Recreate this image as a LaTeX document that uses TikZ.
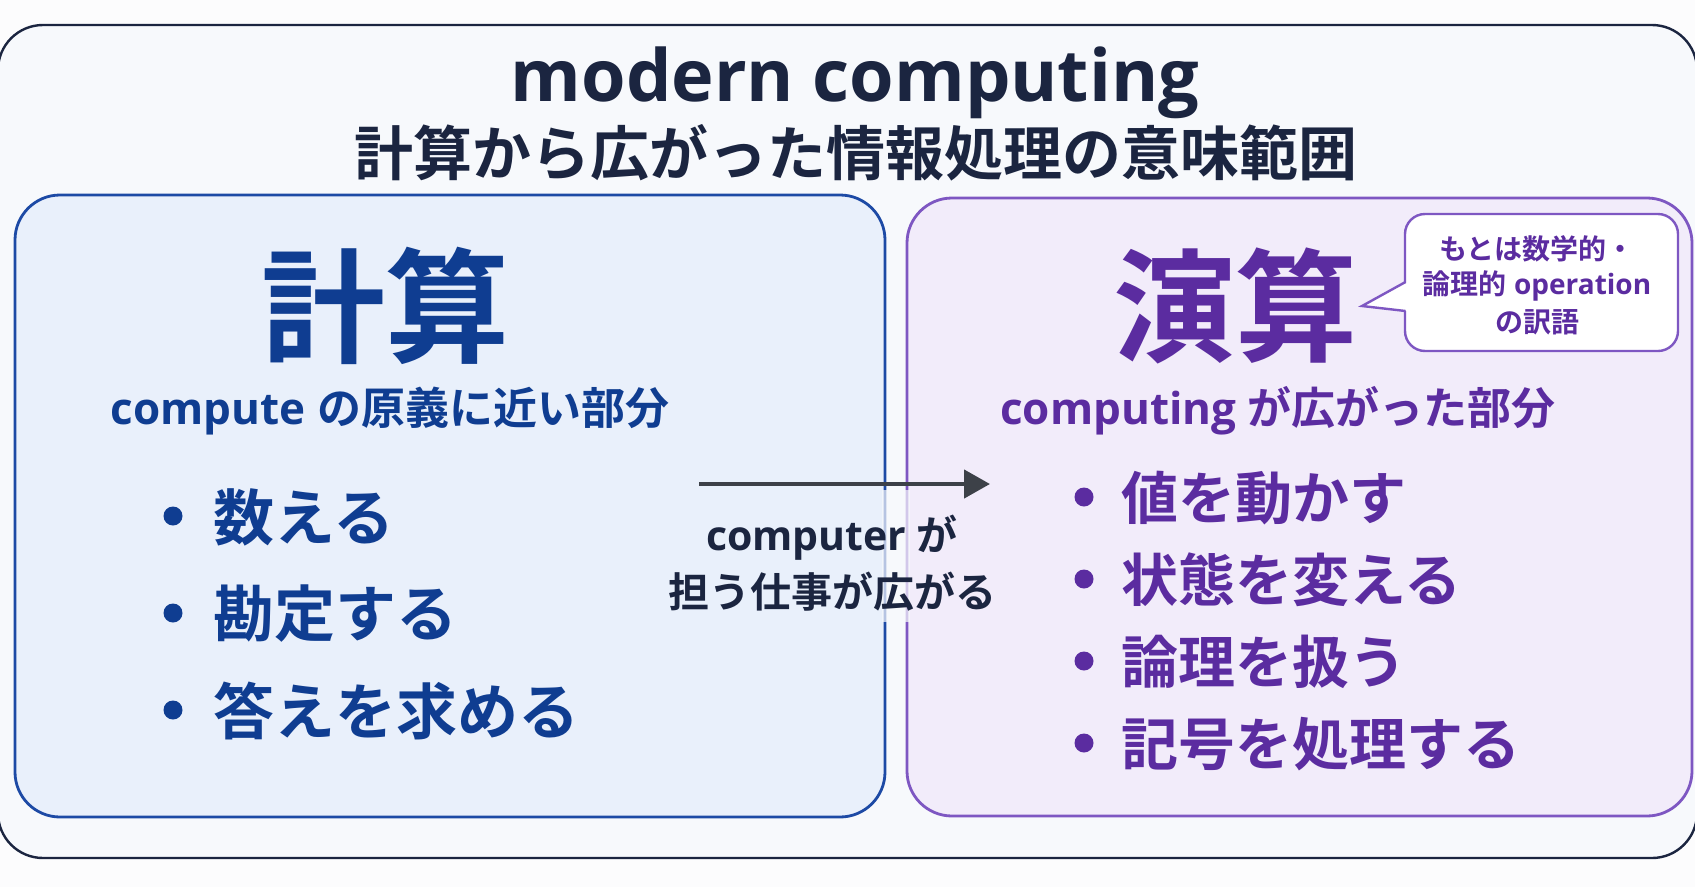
\documentclass[tikz,border=0pt]{standalone}
\usepackage{fontspec}
\setmainfont{Open Sans}
\newfontfamily\cjk{Noto Sans CJK JP}[BoldFont={Noto Sans CJK JP Bold}]
\usetikzlibrary{arrows.meta}
\definecolor{navy}{HTML}{1B2540}
\definecolor{bstroke}{HTML}{1D4AA5}
\definecolor{btext}{HTML}{0F3D91}
\definecolor{bfill}{HTML}{E9F0FB}
\definecolor{pstroke}{HTML}{7E57C2}
\definecolor{ptext}{HTML}{5B2CA0}
\definecolor{pfill}{HTML}{F2ECFA}
\definecolor{arrowc}{HTML}{3D4148}
\definecolor{pagebg}{HTML}{FCFCFD}
\definecolor{framebg}{HTML}{F7F9FC}
\newcommand\J[1]{{\cjk #1}}
\newcommand\fs[1]{\fontsize{#1}{#1}\selectfont}
\begin{document}
\begin{tikzpicture}[x=1pt,y=-1pt,
  txt/.style={inner sep=0pt, font=\bfseries},
  bul/.style={circle, inner sep=0pt, minimum size=19pt},
  panel/.style={line width=2.8pt, rounded corners=45pt},
]
\useasboundingbox (0,0) rectangle (1695,887);
\fill[pagebg] (0,0) rectangle (1695,887);
% outer frame
\draw[navy, line width=2.4pt, fill=framebg, rounded corners=45pt] (-2,25) rectangle (1697,858);
% title
\node[txt, text=navy, font=\bfseries\fs{72}] (title) at (855,83) {modern computing};
\node[txt, text=navy, font=\bfseries\fs{59}] (subtitle) at (856,153) {\J{計算から広がった情報処理の意味範囲}};
% left box
\draw[panel, bstroke, fill=bfill] (15,195) rectangle (885,817);
% right box
\draw[panel, pstroke, fill=pfill] (907,198) rectangle (1692,816);
% fading over borders behind arrow label
\fill[framebg, opacity=0.7] (882,490) rectangle (910,622);
% left content
\node[txt, text=btext, font=\bfseries\fs{124}] (keisan) at (385,306) {\J{計算}};
\node[txt, text=btext, font=\bfseries\fs{44}] (lsub) at (390,411) {compute \J{の原義に近い部分}};
\node[bul, fill=btext] (lb1) at (173,516) {};
\node[txt, text=btext, font=\bfseries\fs{61}, anchor=west] (lt1) at (213,517) {\J{数える}};
\node[bul, fill=btext] (lb2) at (173,613) {};
\node[txt, text=btext, font=\bfseries\fs{61}, anchor=west] (lt2) at (213,614) {\J{勘定する}};
\node[bul, fill=btext] (lb3) at (173,710) {};
\node[txt, text=btext, font=\bfseries\fs{61}, anchor=west] (lt3) at (213,711) {\J{答えを求める}};
% right content
\node[txt, text=ptext, font=\bfseries\fs{122}] (enzan) at (1235,306) {\J{演算}};
\node[txt, text=ptext, font=\bfseries\fs{44}] (rsub) at (1278,411) {computing \J{が広がった部分}};
\node[bul, fill=ptext] (rb1) at (1084,497) {};
\node[txt, text=ptext, font=\bfseries\fs{57}, anchor=west] (rt1) at (1121,498) {\J{値を動かす}};
\node[bul, fill=ptext] (rb2) at (1084,579) {};
\node[txt, text=ptext, font=\bfseries\fs{57}, anchor=west] (rt2) at (1121,580) {\J{状態を変える}};
\node[bul, fill=ptext] (rb3) at (1084,661) {};
\node[txt, text=ptext, font=\bfseries\fs{57}, anchor=west] (rt3) at (1121,662) {\J{論理を扱う}};
\node[bul, fill=ptext] (rb4) at (1084,743) {};
\node[txt, text=ptext, font=\bfseries\fs{57}, anchor=west] (rt4) at (1121,744) {\J{記号を処理する}};
% callout
\draw[pstroke, line width=2.4pt, fill=white, rounded corners=20pt] (1405,214) rectangle (1678,351);
\coordinate (tip) at (1362,306);
\fill[white] (1408,282) -- (tip) -- (1408,311) -- cycle;
\draw[pstroke, line width=2.4pt, line join=miter] (1405.5,282) -- (tip) -- (1405.5,311);
\node[txt, text=ptext, font=\bfseries\fs{28}, align=center] (callout) at (1537,285)
  {\J{もとは数学的・}\\[7pt]\J{論理的} operation\\[7pt]\J{の訳語}};
% arrow
\coordinate (a1) at (699,484);
\coordinate (a2) at (990,484);
\draw[arrowc, line width=4.5pt, -{Triangle[length=26pt,width=28pt]}] (a1) -- (a2);
\node[txt, text=navy, font=\bfseries\fs{41}, align=center] (alabel) at (832,563)
  {computer \J{が}\\[10pt]\J{担う仕事が広がる}};
\end{tikzpicture}
\end{document}
